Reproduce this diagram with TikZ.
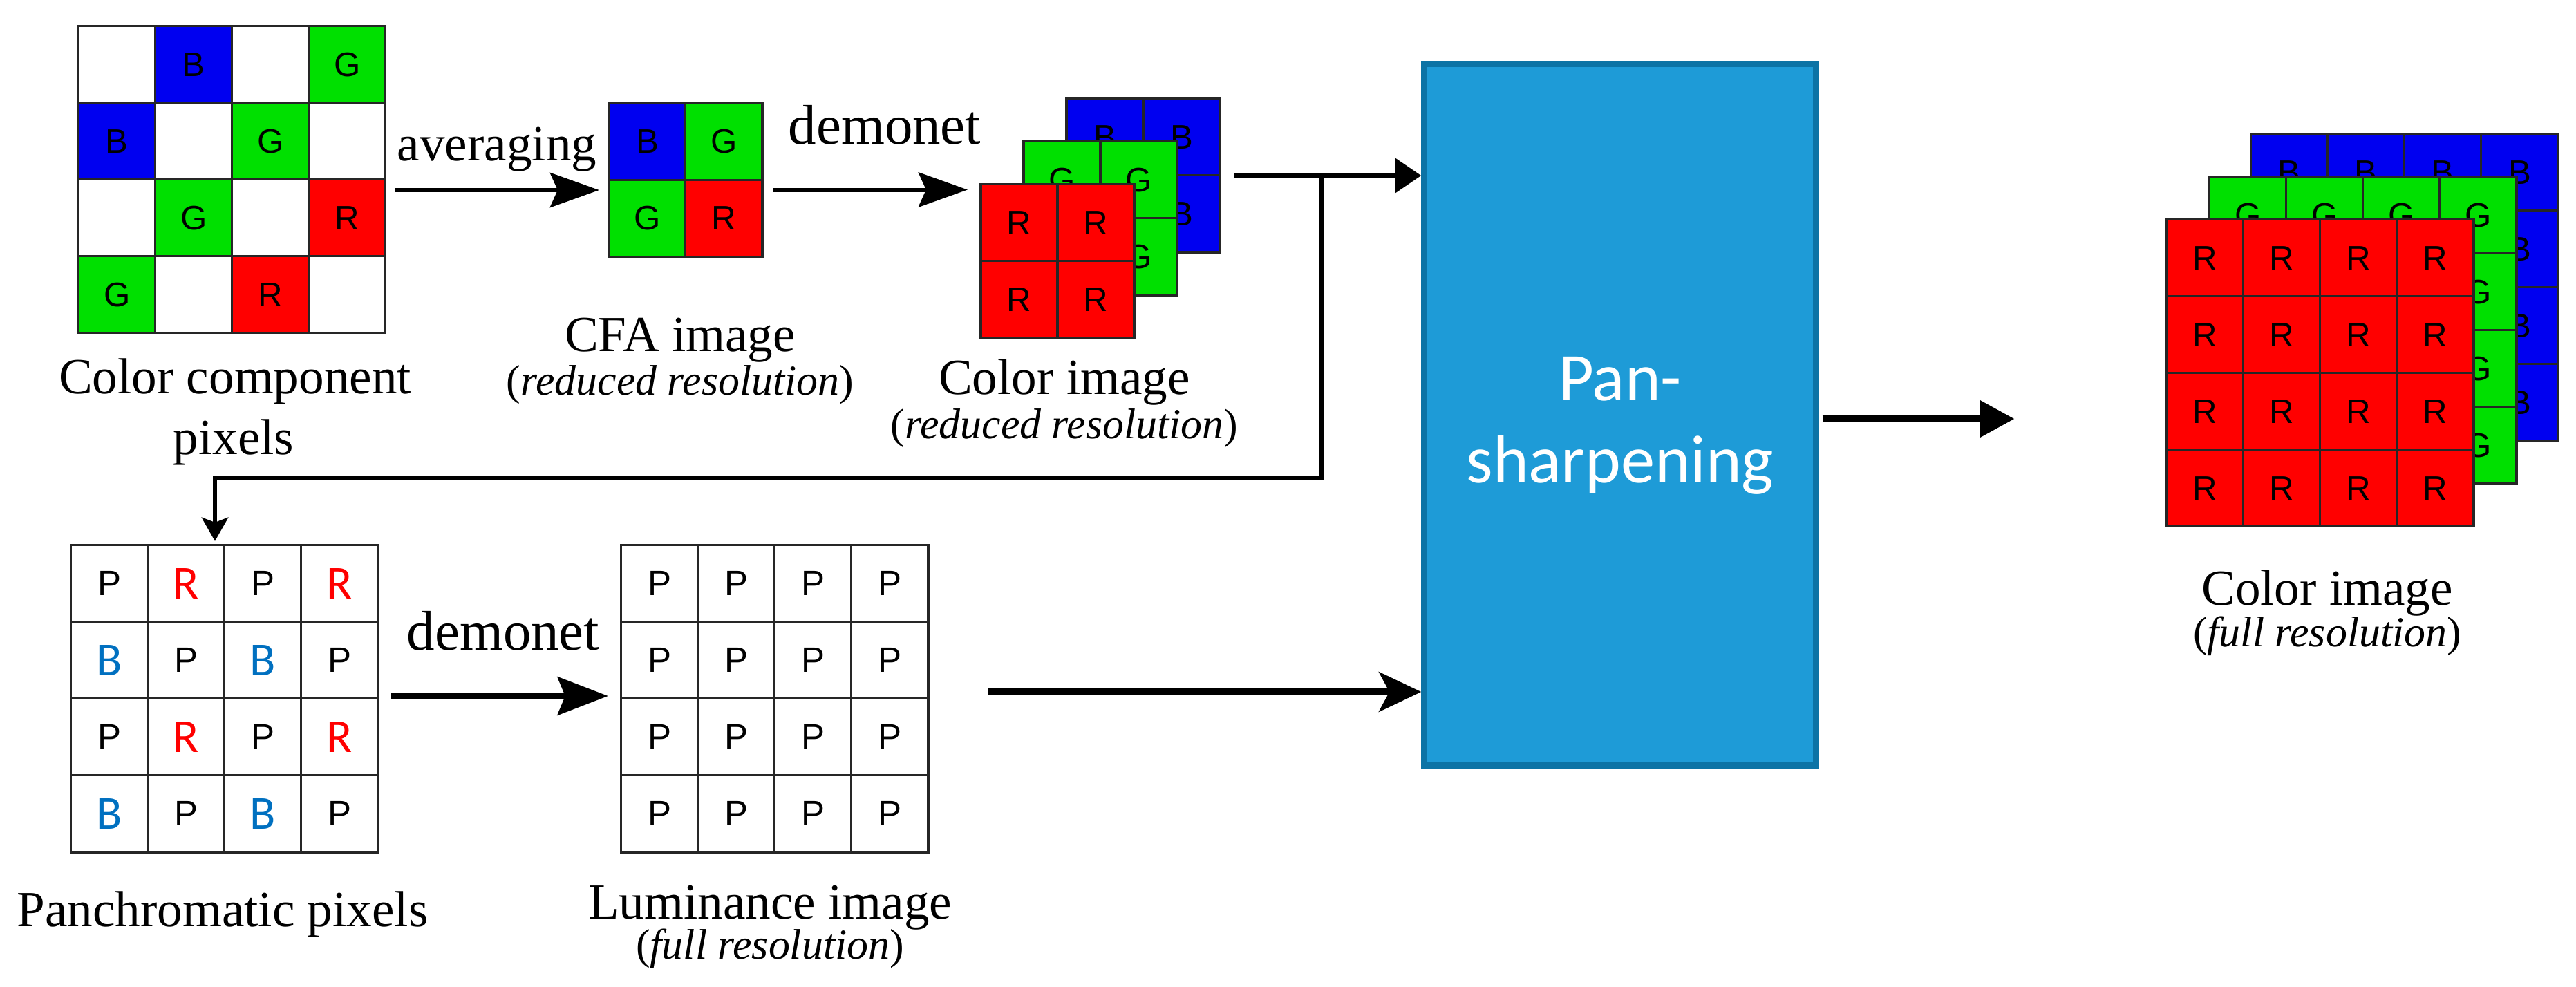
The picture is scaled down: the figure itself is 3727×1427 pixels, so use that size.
\documentclass[tikz,border=0pt]{standalone}
\usepackage{fontspec}
\setmainfont{Liberation Serif}
\newfontfamily\calibrifont{Carlito}
\newfontfamily\arialfont{Liberation Sans}
\usetikzlibrary{arrows.meta, positioning, calc}
\definecolor{cellblue}{RGB}{0, 0, 240}
\definecolor{cellgreen}{RGB}{0, 224, 0}
\definecolor{cellred}{RGB}{255, 0, 0}
\definecolor{panblue}{RGB}{0, 112, 192}
\definecolor{psfill}{RGB}{30, 155, 215}
\definecolor{psline}{RGB}{12, 115, 165}
\newcommand{\panR}{{\calibrifont\fontsize{19.5}{23}\selectfont\textcolor{cellred}{R}}}
\newcommand{\panB}{{\calibrifont\fontsize{19.5}{23}\selectfont\textcolor{panblue}{B}}}

\begin{document}
\begin{tikzpicture}[x=0.01cm, y=-0.01cm,
    cell/.style={draw=black!85, line width=0.9pt, minimum size=1.11cm, inner sep=0pt, outer sep=0pt, font=\arialfont\fontsize{14}{16}\selectfont},
    pcell/.style={cell, fill=white, font=\arialfont\fontsize{14.5}{17}\selectfont},
    gridframe/.style={inner sep=0pt, outer sep=0pt},
    lbl/.style={inner sep=0pt, anchor=base, font=\fontsize{20.8}{25}\selectfont},
    sublbl/.style={inner sep=0pt, anchor=base, font=\fontsize{17.6}{21}\selectfont},
    dmlbl/.style={inner sep=0pt, anchor=base, font=\fontsize{23}{27}\selectfont},
    flow/.style={line width=1.7pt, -{Stealth[length=0.71cm, width=0.5cm, inset=0.11cm]}}]
    \useasboundingbox (0,0) rectangle (3727,1427);

    % grid frames
    \node [gridframe, minimum size=4.44cm] (ccp) at (336,260) {};
    \node [gridframe, minimum size=2.22cm] (cfa) at (992,260.5) {};
    \node [gridframe, minimum size=2.22cm] (rgbB) at (1654,254) {};
    \node [gridframe, minimum size=2.22cm] (rgbG) at (1592,316) {};
    \node [gridframe, minimum size=2.22cm] (rgbR) at (1530,378) {};
    \node [gridframe, minimum size=4.44cm] (pan) at (325,1011) {};
    \node [gridframe, minimum size=4.44cm] (lum) at (1121,1011) {};
    \node [gridframe, minimum size=4.44cm] (fullB) at (3479,416) {};
    \node [gridframe, minimum size=4.44cm] (fullG) at (3419,478) {};
    \node [gridframe, minimum size=4.44cm] (fullR) at (3357,540) {};

    % colour component pixels
    \foreach \c/\r/\f/\t in {0/0/white/{}, 1/0/cellblue/B, 2/0/white/{}, 3/0/cellgreen/G,
                            0/1/cellblue/B, 1/1/white/{}, 2/1/cellgreen/G, 3/1/white/{},
                            0/2/white/{}, 1/2/cellgreen/G, 2/2/white/{}, 3/2/cellred/R,
                            0/3/cellgreen/G, 1/3/white/{}, 2/3/cellred/R, 3/3/white/{}}
        \node [cell, fill=\f] (ccp-\c-\r) at ($(ccp.north west)+(\c*111+55.5,\r*111+55.5)$) {\t};

    % CFA image
    \foreach \c/\r/\f/\t in {0/0/cellblue/B, 1/0/cellgreen/G, 0/1/cellgreen/G, 1/1/cellred/R}
        \node [cell, fill=\f] (cfa-\c-\r) at ($(cfa.north west)+(\c*111+55.5,\r*111+55.5)$) {\t};

    % colour image, reduced resolution (back layers first)
    \foreach \lay/\f/\t/\back in {rgbB/cellblue/B/1, rgbG/cellgreen/G/1, rgbR/cellred/R/0}
        \foreach \c in {0,1}
            \foreach \r in {0,1} {
                \pgfmathtruncatemacro\hidden{\back*(\c<1)*(\r>0)}
                \node [cell, fill=\f] (\lay-\c-\r) at ($(\lay.north west)+(\c*111+55.5,\r*111+55.5)$) {\ifnum\hidden=0 \t\fi};
            }

    % colour image, full resolution
    \foreach \lay/\f/\t/\back in {fullB/cellblue/B/1, fullG/cellgreen/G/1, fullR/cellred/R/0}
        \foreach \c in {0,...,3}
            \foreach \r in {0,...,3} {
                \pgfmathtruncatemacro\hidden{\back*(\c<3)*(\r>0)}
                \node [cell, fill=\f] (\lay-\c-\r) at ($(\lay.north west)+(\c*111+55.5,\r*111+55.5)$) {\ifnum\hidden=0 \t\fi};
            }

    % panchromatic pixels
    \foreach \c/\r/\t in {0/0/P, 1/0/\panR, 2/0/P, 3/0/\panR,
                         0/1/\panB, 1/1/P, 2/1/\panB, 3/1/P,
                         0/2/P, 1/2/\panR, 2/2/P, 3/2/\panR,
                         0/3/\panB, 1/3/P, 2/3/\panB, 3/3/P}
        \node [pcell] (pan-\c-\r) at ($(pan.north west)+(\c*111+55.5,\r*111+55.5)$) {\t};

    % luminance image
    \foreach \c in {0,...,3}
        \foreach \r in {0,...,3}
            \node [pcell] (lum-\c-\r) at ($(lum.north west)+(\c*111+55.5,\r*111+55.5)$) {P};

    % pan-sharpening block
    \node [draw=psline, fill=psfill, line width=0.09cm, minimum width=5.66cm, minimum height=10.15cm,
           align=center, text=white, font=\calibrifont\fontsize{28}{34}\selectfont] (ps) at (2344,600) {\rule{0pt}{27pt}Pan-\\sharpening};

    % labels
    \node [lbl] (ccplbl) at (340,569) {Color component};
    \node [lbl] (ccplbl2) at ($(ccplbl.base)+(-2,88)$) {pixels};
    \node [lbl] (avg) at (719,232) {averaging};
    \node [lbl] (cfalbl) at (984,508) {CFA image};
    \node [sublbl] (cfasub) at ($(cfalbl.base)+(0,63)$) {(\textit{reduced resolution})};
    \node [dmlbl] (dmtop) at (1280,208) {demonet};
    \node [lbl] (rgblbl) at (1540,570) {Color image};
    \node [sublbl] (rgbsub) at ($(rgblbl.base)+(0,64)$) {(\textit{reduced resolution})};
    \node [lbl] (panlbl) at (322,1340) {Panchromatic pixels};
    \node [dmlbl] (dmbot) at (728,940) {demonet};
    \node [lbl] (lumlbl) at (1114,1329) {Luminance image};
    \node [sublbl] (lumsub) at ($(lumlbl.base)+(0,58)$) {(\textit{full resolution})};
    \node [lbl] (fulllbl) at (3367,875) {Color image};
    \node [sublbl] (fullsub) at ($(fulllbl.base)+(0,60)$) {(\textit{full resolution})};

    % connectors
    \draw [flow, shorten <=0.13cm, shorten >=0.14cm] ([yshift=-0.15cm]ccp.east) -- ([yshift=-0.15cm]ccp.east -| cfa.west);
    \draw [flow, shorten <=0.15cm, shorten >=0.19cm] ([yshift=-0.14cm]cfa.east) -- ([yshift=-0.14cm]cfa.east -| rgbR.west);
    \draw [flow, line width=2.4pt, -{Triangle[length=0.38cm, width=0.49cm]}, shorten <=0.21cm] (rgbB.east) -- (rgbB.east -| ps.west);
    \coordinate (br) at (1912,258);
    \coordinate (turn) at (311,691);
    \draw [flow, line width=1.9pt, -{Stealth[length=0.34cm, width=0.38cm, inset=0.07cm]}, shorten >=0.06cm] (br) |- (turn) -- (turn |- pan.north);
    \draw [flow, line width=2.6pt, -{Stealth[length=0.73cm, width=0.55cm, inset=0.11cm]}, shorten <=0.19cm, shorten >=0.19cm] ([yshift=0.04cm]pan.east) -- ([yshift=0.04cm]lum.west);
    \draw [flow, line width=3pt, -{Stealth[length=0.61cm, width=0.57cm, inset=0.15cm]}, shorten <=0.87cm] ([yshift=0.1cm]lum.east) -- ([yshift=0.1cm]lum.east -| ps.west);
    \draw [flow, line width=3pt, -{Triangle[length=0.5cm, width=0.51cm]}, shorten <=0.05cm, shorten >=2.2cm] ([yshift=-0.06cm]ps.east) -- ([yshift=-0.06cm]ps.east -| fullR.west);
\end{tikzpicture}
\end{document}
